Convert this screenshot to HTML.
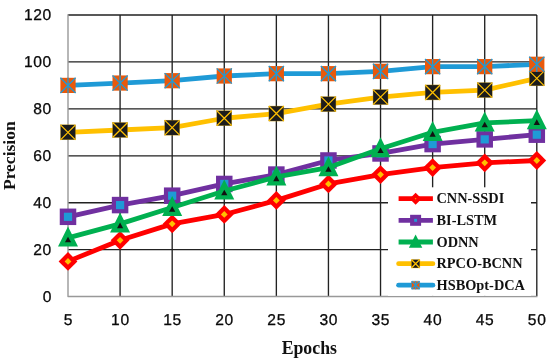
<!DOCTYPE html>
<html><head><meta charset="utf-8"><title>Precision vs Epochs</title>
<style>
html,body{margin:0;padding:0;background:#fff;}
svg{display:block}
.tk{font-family:"Liberation Sans",Arial,sans-serif;font-size:15.6px;text-rendering:geometricPrecision;fill:#0a0a0a;stroke:#0a0a0a;stroke-width:0.3px;letter-spacing:0.7px}
.lg{font-family:"Liberation Serif","Times New Roman",serif;font-weight:bold;font-size:14.35px;fill:#111}
.ti{font-family:"Liberation Serif","Times New Roman",serif;font-weight:bold;font-size:17.8px;fill:#111}
</style></head><body>
<svg width="550" height="362" viewBox="0 0 550 362">
<rect width="550" height="362" fill="#fff"/>
<path d="M68.00 249.67H536.80M68.00 202.73H536.80M68.00 155.80H536.80M68.00 108.87H536.80M68.00 61.93H536.80M68.00 15.00H536.80M120.09 15.00V296.00M172.18 15.00V296.00M224.27 15.00V296.00M276.36 15.00V296.00M328.44 15.00V296.00M380.53 15.00V296.00M432.62 15.00V296.00M484.71 15.00V296.00M536.80 15.00V296.00" stroke="#222" stroke-width="1.35" fill="none"/>
<path d="M68.00 14.30V296.50H537.50" stroke="#999" stroke-width="1.4" fill="none" stroke-linejoin="round"/>
<polyline points="68.00,261.40 120.09,240.28 172.18,223.85 224.27,214.47 276.36,200.39 328.44,183.96 380.53,174.57 432.62,167.53 484.71,162.84 536.80,160.49" fill="none" stroke="#ff0000" stroke-width="4.8" stroke-linejoin="round" stroke-linecap="round"/>
<path d="M68.00 252.00L77.40 261.40L68.00 270.80L58.60 261.40Z" fill="#ff0000"/><path d="M68.00 258.00L71.40 261.40L68.00 264.80L64.60 261.40Z" fill="#ffc000"/>
<path d="M120.09 230.88L129.49 240.28L120.09 249.68L110.69 240.28Z" fill="#ff0000"/><path d="M120.09 236.88L123.49 240.28L120.09 243.68L116.69 240.28Z" fill="#ffc000"/>
<path d="M172.18 214.45L181.58 223.85L172.18 233.25L162.78 223.85Z" fill="#ff0000"/><path d="M172.18 220.45L175.58 223.85L172.18 227.25L168.78 223.85Z" fill="#ffc000"/>
<path d="M224.27 205.07L233.67 214.47L224.27 223.87L214.87 214.47Z" fill="#ff0000"/><path d="M224.27 211.07L227.67 214.47L224.27 217.87L220.87 214.47Z" fill="#ffc000"/>
<path d="M276.36 190.99L285.76 200.39L276.36 209.79L266.96 200.39Z" fill="#ff0000"/><path d="M276.36 196.99L279.76 200.39L276.36 203.79L272.96 200.39Z" fill="#ffc000"/>
<path d="M328.44 174.56L337.84 183.96L328.44 193.36L319.04 183.96Z" fill="#ff0000"/><path d="M328.44 180.56L331.84 183.96L328.44 187.36L325.04 183.96Z" fill="#ffc000"/>
<path d="M380.53 165.17L389.93 174.57L380.53 183.97L371.13 174.57Z" fill="#ff0000"/><path d="M380.53 171.17L383.93 174.57L380.53 177.97L377.13 174.57Z" fill="#ffc000"/>
<path d="M432.62 158.13L442.02 167.53L432.62 176.93L423.22 167.53Z" fill="#ff0000"/><path d="M432.62 164.13L436.02 167.53L432.62 170.93L429.22 167.53Z" fill="#ffc000"/>
<path d="M484.71 153.44L494.11 162.84L484.71 172.24L475.31 162.84Z" fill="#ff0000"/><path d="M484.71 159.44L488.11 162.84L484.71 166.24L481.31 162.84Z" fill="#ffc000"/>
<path d="M536.80 151.09L546.20 160.49L536.80 169.89L527.40 160.49Z" fill="#ff0000"/><path d="M536.80 157.09L540.20 160.49L536.80 163.89L533.40 160.49Z" fill="#ffc000"/>
<polyline points="68.00,216.81 120.09,205.08 172.18,195.69 224.27,183.96 276.36,174.57 328.44,160.49 380.53,153.45 432.62,144.07 484.71,139.37 536.80,134.68" fill="none" stroke="#7030a0" stroke-width="4.8" stroke-linejoin="round" stroke-linecap="round"/>
<rect x="59.75" y="208.56" width="16.5" height="16.5" fill="#7030a0"/><rect x="63.90" y="212.71" width="8.2" height="8.2" fill="#1f9ad6"/>
<rect x="111.84" y="196.83" width="16.5" height="16.5" fill="#7030a0"/><rect x="115.99" y="200.98" width="8.2" height="8.2" fill="#1f9ad6"/>
<rect x="163.93" y="187.44" width="16.5" height="16.5" fill="#7030a0"/><rect x="168.08" y="191.59" width="8.2" height="8.2" fill="#1f9ad6"/>
<rect x="216.02" y="175.71" width="16.5" height="16.5" fill="#7030a0"/><rect x="220.17" y="179.86" width="8.2" height="8.2" fill="#1f9ad6"/>
<rect x="268.11" y="166.32" width="16.5" height="16.5" fill="#7030a0"/><rect x="272.26" y="170.47" width="8.2" height="8.2" fill="#1f9ad6"/>
<rect x="320.19" y="152.24" width="16.5" height="16.5" fill="#7030a0"/><rect x="324.34" y="156.39" width="8.2" height="8.2" fill="#1f9ad6"/>
<rect x="372.28" y="145.20" width="16.5" height="16.5" fill="#7030a0"/><rect x="376.43" y="149.35" width="8.2" height="8.2" fill="#1f9ad6"/>
<rect x="424.37" y="135.82" width="16.5" height="16.5" fill="#7030a0"/><rect x="428.52" y="139.97" width="8.2" height="8.2" fill="#1f9ad6"/>
<rect x="476.46" y="131.12" width="16.5" height="16.5" fill="#7030a0"/><rect x="480.61" y="135.27" width="8.2" height="8.2" fill="#1f9ad6"/>
<rect x="528.55" y="126.43" width="16.5" height="16.5" fill="#7030a0"/><rect x="532.70" y="130.58" width="8.2" height="8.2" fill="#1f9ad6"/>
<polyline points="68.00,237.93 120.09,223.85 172.18,207.43 224.27,191.00 276.36,176.92 328.44,167.53 380.53,148.76 432.62,132.33 484.71,122.95 536.80,120.60" fill="none" stroke="#00b050" stroke-width="4.8" stroke-linejoin="round" stroke-linecap="round"/>
<path d="M68.00 226.53L78.00 246.53L58.00 246.53Z" fill="#00b050"/><path d="M68.00 236.63L71.10 242.23L64.90 242.23Z" fill="#111111"/>
<path d="M120.09 212.45L130.09 232.45L110.09 232.45Z" fill="#00b050"/><path d="M120.09 222.55L123.19 228.15L116.99 228.15Z" fill="#111111"/>
<path d="M172.18 196.03L182.18 216.03L162.18 216.03Z" fill="#00b050"/><path d="M172.18 206.13L175.28 211.73L169.08 211.73Z" fill="#111111"/>
<path d="M224.27 179.60L234.27 199.60L214.27 199.60Z" fill="#00b050"/><path d="M224.27 189.70L227.37 195.30L221.17 195.30Z" fill="#111111"/>
<path d="M276.36 165.52L286.36 185.52L266.36 185.52Z" fill="#00b050"/><path d="M276.36 175.62L279.46 181.22L273.26 181.22Z" fill="#111111"/>
<path d="M328.44 156.13L338.44 176.13L318.44 176.13Z" fill="#00b050"/><path d="M328.44 166.23L331.54 171.83L325.34 171.83Z" fill="#111111"/>
<path d="M380.53 137.36L390.53 157.36L370.53 157.36Z" fill="#00b050"/><path d="M380.53 147.46L383.63 153.06L377.43 153.06Z" fill="#111111"/>
<path d="M432.62 120.93L442.62 140.93L422.62 140.93Z" fill="#00b050"/><path d="M432.62 131.03L435.72 136.63L429.52 136.63Z" fill="#111111"/>
<path d="M484.71 111.55L494.71 131.55L474.71 131.55Z" fill="#00b050"/><path d="M484.71 121.65L487.81 127.25L481.61 127.25Z" fill="#111111"/>
<path d="M536.80 109.20L546.80 129.20L526.80 129.20Z" fill="#00b050"/><path d="M536.80 119.30L539.90 124.90L533.70 124.90Z" fill="#111111"/>
<polyline points="68.00,132.33 120.09,129.99 172.18,127.64 224.27,118.25 276.36,113.56 328.44,104.17 380.53,97.13 432.62,92.44 484.71,90.09 536.80,78.36" fill="none" stroke="#ffc000" stroke-width="4.8" stroke-linejoin="round" stroke-linecap="round"/>
<rect x="60.50" y="124.83" width="15.0" height="15.0" rx="0" fill="#1c1c1c" stroke="#c99700" stroke-width="0.35"/><path d="M60.50 124.83L75.50 139.83M75.50 124.83L60.50 139.83" stroke="#ffc000" stroke-width="1.25" fill="none"/>
<rect x="112.59" y="122.49" width="15.0" height="15.0" rx="0" fill="#1c1c1c" stroke="#c99700" stroke-width="0.35"/><path d="M112.59 122.49L127.59 137.49M127.59 122.49L112.59 137.49" stroke="#ffc000" stroke-width="1.25" fill="none"/>
<rect x="164.68" y="120.14" width="15.0" height="15.0" rx="0" fill="#1c1c1c" stroke="#c99700" stroke-width="0.35"/><path d="M164.68 120.14L179.68 135.14M179.68 120.14L164.68 135.14" stroke="#ffc000" stroke-width="1.25" fill="none"/>
<rect x="216.77" y="110.75" width="15.0" height="15.0" rx="0" fill="#1c1c1c" stroke="#c99700" stroke-width="0.35"/><path d="M216.77 110.75L231.77 125.75M231.77 110.75L216.77 125.75" stroke="#ffc000" stroke-width="1.25" fill="none"/>
<rect x="268.86" y="106.06" width="15.0" height="15.0" rx="0" fill="#1c1c1c" stroke="#c99700" stroke-width="0.35"/><path d="M268.86 106.06L283.86 121.06M283.86 106.06L268.86 121.06" stroke="#ffc000" stroke-width="1.25" fill="none"/>
<rect x="320.94" y="96.67" width="15.0" height="15.0" rx="0" fill="#1c1c1c" stroke="#c99700" stroke-width="0.35"/><path d="M320.94 96.67L335.94 111.67M335.94 96.67L320.94 111.67" stroke="#ffc000" stroke-width="1.25" fill="none"/>
<rect x="373.03" y="89.63" width="15.0" height="15.0" rx="0" fill="#1c1c1c" stroke="#c99700" stroke-width="0.35"/><path d="M373.03 89.63L388.03 104.63M388.03 89.63L373.03 104.63" stroke="#ffc000" stroke-width="1.25" fill="none"/>
<rect x="425.12" y="84.94" width="15.0" height="15.0" rx="0" fill="#1c1c1c" stroke="#c99700" stroke-width="0.35"/><path d="M425.12 84.94L440.12 99.94M440.12 84.94L425.12 99.94" stroke="#ffc000" stroke-width="1.25" fill="none"/>
<rect x="477.21" y="82.59" width="15.0" height="15.0" rx="0" fill="#1c1c1c" stroke="#c99700" stroke-width="0.35"/><path d="M477.21 82.59L492.21 97.59M492.21 82.59L477.21 97.59" stroke="#ffc000" stroke-width="1.25" fill="none"/>
<rect x="529.30" y="70.86" width="15.0" height="15.0" rx="0" fill="#1c1c1c" stroke="#c99700" stroke-width="0.35"/><path d="M529.30 70.86L544.30 85.86M544.30 70.86L529.30 85.86" stroke="#ffc000" stroke-width="1.25" fill="none"/>
<polyline points="68.00,85.40 120.09,83.05 172.18,80.71 224.27,76.01 276.36,73.67 328.44,73.67 380.53,71.32 432.62,66.63 484.71,66.63 536.80,64.28" fill="none" stroke="#1f9ad6" stroke-width="4.8" stroke-linejoin="round" stroke-linecap="round"/>
<rect x="60.40" y="77.80" width="15.2" height="15.2" rx="0" fill="#e8590c"/><path d="M60.40 77.80L75.60 93.00M75.60 77.80L60.40 93.00M68.00 77.80V93.00" stroke="#1f9ad6" stroke-width="1.3" fill="none"/>
<rect x="112.49" y="75.45" width="15.2" height="15.2" rx="0" fill="#e8590c"/><path d="M112.49 75.45L127.69 90.65M127.69 75.45L112.49 90.65M120.09 75.45V90.65" stroke="#1f9ad6" stroke-width="1.3" fill="none"/>
<rect x="164.58" y="73.11" width="15.2" height="15.2" rx="0" fill="#e8590c"/><path d="M164.58 73.11L179.78 88.31M179.78 73.11L164.58 88.31M172.18 73.11V88.31" stroke="#1f9ad6" stroke-width="1.3" fill="none"/>
<rect x="216.67" y="68.41" width="15.2" height="15.2" rx="0" fill="#e8590c"/><path d="M216.67 68.41L231.87 83.61M231.87 68.41L216.67 83.61M224.27 68.41V83.61" stroke="#1f9ad6" stroke-width="1.3" fill="none"/>
<rect x="268.76" y="66.07" width="15.2" height="15.2" rx="0" fill="#e8590c"/><path d="M268.76 66.07L283.96 81.27M283.96 66.07L268.76 81.27M276.36 66.07V81.27" stroke="#1f9ad6" stroke-width="1.3" fill="none"/>
<rect x="320.84" y="66.07" width="15.2" height="15.2" rx="0" fill="#e8590c"/><path d="M320.84 66.07L336.04 81.27M336.04 66.07L320.84 81.27M328.44 66.07V81.27" stroke="#1f9ad6" stroke-width="1.3" fill="none"/>
<rect x="372.93" y="63.72" width="15.2" height="15.2" rx="0" fill="#e8590c"/><path d="M372.93 63.72L388.13 78.92M388.13 63.72L372.93 78.92M380.53 63.72V78.92" stroke="#1f9ad6" stroke-width="1.3" fill="none"/>
<rect x="425.02" y="59.03" width="15.2" height="15.2" rx="0" fill="#e8590c"/><path d="M425.02 59.03L440.22 74.23M440.22 59.03L425.02 74.23M432.62 59.03V74.23" stroke="#1f9ad6" stroke-width="1.3" fill="none"/>
<rect x="477.11" y="59.03" width="15.2" height="15.2" rx="0" fill="#e8590c"/><path d="M477.11 59.03L492.31 74.23M492.31 59.03L477.11 74.23M484.71 59.03V74.23" stroke="#1f9ad6" stroke-width="1.3" fill="none"/>
<rect x="529.20" y="56.68" width="15.2" height="15.2" rx="0" fill="#e8590c"/><path d="M529.20 56.68L544.40 71.88M544.40 56.68L529.20 71.88M536.80 56.68V71.88" stroke="#1f9ad6" stroke-width="1.3" fill="none"/>
<rect x="388.0" y="187.3" width="143.0" height="108.59999999999997" fill="#fff"/>
<path d="M398.6 198.7H432.9" stroke="#ff0000" stroke-width="4.8" stroke-linecap="butt"/>
<path d="M415.60 192.70L421.60 198.70L415.60 204.70L409.60 198.70Z" fill="#ff0000"/><path d="M415.60 197.80L416.50 198.70L415.60 199.60L414.70 198.70Z" fill="#ff9a00"/>
<text x="436.5" y="203.40" class="lg">CNN-SSDI</text>
<path d="M398.6 220.3H432.9" stroke="#7030a0" stroke-width="4.8" stroke-linecap="butt"/>
<rect x="410.10" y="214.80" width="11" height="11" fill="#7030a0"/><rect x="414.15" y="218.85" width="2.9" height="2.9" fill="#1f9ad6"/>
<text x="436.5" y="225.00" class="lg">BI-LSTM</text>
<path d="M398.6 242.0H432.9" stroke="#00b050" stroke-width="4.8" stroke-linecap="butt"/>
<path d="M415.60 234.40L422.30 247.80L408.90 247.80Z" fill="#00b050"/><path d="M415.60 243.33L415.60 243.33L415.60 243.33Z" fill="#00b050"/>
<text x="436.5" y="246.70" class="lg">ODNN</text>
<path d="M398.6 263.7H432.9" stroke="#ffc000" stroke-width="4.8" stroke-linecap="round"/>
<rect x="411.35" y="259.45" width="8.5" height="8.5" rx="1" fill="#17171f" stroke="#ffc000" stroke-width="0.4"/><path d="M411.35 259.45L419.85 267.95M419.85 259.45L411.35 267.95" stroke="#ffc000" stroke-width="1.3" fill="none"/>
<text x="436.5" y="268.40" class="lg">RPCO-BCNN</text>
<path d="M398.6 285.2H432.9" stroke="#1f9ad6" stroke-width="4.8" stroke-linecap="round"/>
<rect x="411.55" y="281.15" width="8.1" height="8.1" rx="1" fill="#e8590c" stroke="#1f9ad6" stroke-width="0.4"/><path d="M411.55 281.15L419.65 289.25M419.65 281.15L411.55 289.25M415.60 281.15V289.25" stroke="#1f9ad6" stroke-width="1.2" fill="none"/>
<text x="436.5" y="289.90" class="lg">HSBOpt-DCA</text>
<text x="52.0" y="302.00" class="tk" text-anchor="end">0</text>
<text x="52.0" y="255.07" class="tk" text-anchor="end">20</text>
<text x="52.0" y="208.13" class="tk" text-anchor="end">40</text>
<text x="52.0" y="161.20" class="tk" text-anchor="end">60</text>
<text x="52.0" y="114.27" class="tk" text-anchor="end">80</text>
<text x="52.0" y="67.33" class="tk" text-anchor="end">100</text>
<text x="52.0" y="20.40" class="tk" text-anchor="end">120</text>
<text x="68.35" y="324.8" class="tk" text-anchor="middle">5</text>
<text x="120.44" y="324.8" class="tk" text-anchor="middle">10</text>
<text x="172.53" y="324.8" class="tk" text-anchor="middle">15</text>
<text x="224.62" y="324.8" class="tk" text-anchor="middle">20</text>
<text x="276.71" y="324.8" class="tk" text-anchor="middle">25</text>
<text x="328.79" y="324.8" class="tk" text-anchor="middle">30</text>
<text x="380.88" y="324.8" class="tk" text-anchor="middle">35</text>
<text x="432.97" y="324.8" class="tk" text-anchor="middle">40</text>
<text x="485.06" y="324.8" class="tk" text-anchor="middle">45</text>
<text x="537.15" y="324.8" class="tk" text-anchor="middle">50</text>
<text x="309.3" y="354" class="ti" text-anchor="middle">Epochs</text>
<text transform="translate(15.3 155.7) rotate(-90)" class="ti" style="font-size:17.5px" text-anchor="middle">Precision</text>
</svg>
</body></html>
